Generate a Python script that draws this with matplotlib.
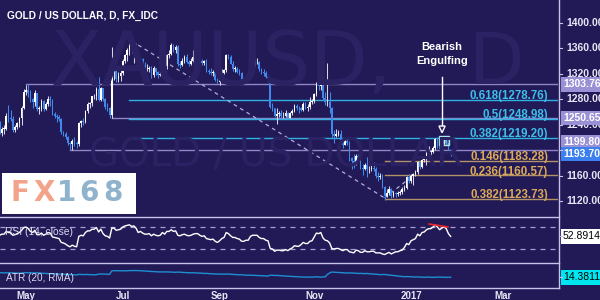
import matplotlib
matplotlib.use('Agg')
import matplotlib.pyplot as plt
import matplotlib.transforms as mtransforms
from matplotlib.lines import Line2D
from matplotlib.patches import Rectangle, Polygon
import numpy as np
import pandas as pd

plt.rcParams['font.family'] = ['Liberation Sans', 'DejaVu Sans']

# ---------------- data ----------------
start_date = '2016-04-14'
end_date = '2017-01-26'
first_open = 1244.0

close = [
    # Apr
    1227, 1234, 1234, 1254, 1250, 1249, 1232, 1237, 1243, 1250, 1266, 1291,
    # May
    1295, 1290, 1280, 1275, 1290, 1265, 1265, 1277, 1265, 1272, 1281, 1279, 1257, 1254, 1252, 1249, 1228, 1225, 1221, 1212, 1210, 1215,
    # Jun
    1211, 1209, 1243, 1246, 1244, 1261, 1272, 1274, 1285, 1285, 1296, 1279, 1298, 1280, 1268, 1266, 1255, 1322, 1325, 1312, 1317, 1321,
    # Jul
    1340, 1350, 1357, 1366, 1360, 1366, 1356, 1333, 1343, 1334, 1327, 1328, 1330, 1318, 1330, 1323, 1318, 1320, 1340, 1332, 1350,
    # Aug
    1352, 1366, 1358, 1363, 1336, 1334, 1341, 1346, 1339, 1336, 1340, 1346, 1349, 1350, 1341, 1337, 1340, 1325, 1323, 1321, 1323, 1311, 1307,
    # Sep
    1313, 1322, 1326, 1350, 1347, 1336, 1328, 1328, 1323, 1322, 1310, 1310, 1314, 1314, 1334, 1337, 1338, 1338, 1328, 1323, 1322, 1315,
    # Oct
    1313, 1268, 1266, 1253, 1257, 1258, 1253, 1254, 1258, 1251, 1259, 1262, 1270, 1267, 1266, 1263, 1273, 1267, 1268, 1276, 1277,
    # Nov
    1289, 1303, 1301, 1303, 1282, 1275, 1275, 1266, 1225, 1222, 1226, 1226, 1216, 1208, 1214, 1212, 1188, 1183, 1178, 1191, 1188, 1172,
    # Dec
    1170, 1177, 1170, 1170, 1172, 1171, 1160, 1158, 1159, 1142, 1128, 1133, 1139, 1128, 1133, 1131, 1133, 1134, 1139, 1140, 1158, 1151,
    # Jan
    1160, 1162, 1165, 1181, 1173, 1184, 1186, 1196, 1197, 1197, 1204, 1217, 1212, 1202, 1210, 1217, 1211, 1198, 1193.70,
]
high = [
    1246, 1237, 1240, 1259, 1271, 1263, 1253, 1240, 1245, 1252, 1270, 1296,
    1303, 1304, 1294, 1282, 1295, 1290, 1270, 1280, 1279, 1276, 1286, 1285, 1281, 1260, 1257, 1255, 1250, 1230, 1228, 1223, 1213, 1218,
    1220, 1214, 1245, 1248, 1250, 1263, 1275, 1276, 1286, 1289, 1299, 1315, 1299, 1298, 1282, 1274, 1268, 1362, 1335, 1327, 1323, 1328,
    1343, 1352, 1360, 1375, 1369, 1372, 1368, 1358, 1346, 1345, 1338, 1335, 1333, 1333, 1333, 1330, 1325, 1325, 1342, 1342, 1352,
    1357, 1368, 1367, 1366, 1365, 1341, 1345, 1349, 1351, 1342, 1345, 1358, 1352, 1356, 1352, 1344, 1342, 1343, 1328, 1330, 1326, 1324, 1314,
    1317, 1327, 1328, 1352, 1352, 1350, 1340, 1332, 1331, 1328, 1323, 1312, 1318, 1318, 1336, 1343, 1342, 1345, 1341, 1330, 1327, 1325,
    1318, 1314, 1274, 1267, 1266, 1262, 1263, 1260, 1263, 1260, 1260, 1265, 1272, 1272, 1269, 1268, 1275, 1276, 1272, 1284, 1281,
    1290, 1308, 1307, 1306, 1304, 1291, 1337, 1292, 1268, 1231, 1233, 1232, 1232, 1218, 1219, 1220, 1215, 1190, 1194, 1194, 1194, 1193,
    1178, 1180, 1189, 1175, 1177, 1181, 1173, 1165, 1164, 1163, 1144, 1139, 1143, 1140, 1136, 1135, 1136, 1137, 1142, 1146, 1160, 1163,
    1162, 1164, 1169, 1183, 1182, 1186, 1190, 1199, 1207, 1200, 1207, 1219, 1220, 1215, 1213, 1219, 1220, 1212, 1200,
]
low = [
    1225, 1223, 1225, 1232, 1245, 1246, 1229, 1228, 1233, 1237, 1240, 1265,
    1287, 1283, 1276, 1267, 1270, 1262, 1257, 1262, 1262, 1263, 1270, 1270, 1255, 1250, 1245, 1246, 1226, 1222, 1217, 1208, 1200, 1200,
    1207, 1204, 1207, 1236, 1240, 1242, 1258, 1267, 1269, 1280, 1279, 1277, 1277, 1277, 1264, 1261, 1251, 1250, 1310, 1307, 1307, 1309,
    1318, 1337, 1341, 1350, 1353, 1337, 1351, 1331, 1331, 1322, 1325, 1325, 1323, 1313, 1315, 1318, 1314, 1316, 1315, 1327, 1328,
    1345, 1350, 1354, 1353, 1333, 1330, 1332, 1337, 1337, 1333, 1334, 1339, 1340, 1344, 1338, 1334, 1334, 1323, 1320, 1318, 1316, 1309, 1305,
    1302, 1307, 1320, 1323, 1343, 1335, 1325, 1323, 1321, 1319, 1308, 1305, 1307, 1310, 1312, 1331, 1333, 1335, 1325, 1320, 1316, 1313,
    1309, 1266, 1262, 1252, 1241, 1252, 1250, 1250, 1252, 1250, 1250, 1255, 1260, 1263, 1259, 1261, 1261, 1264, 1262, 1264, 1272,
    1274, 1286, 1295, 1294, 1279, 1271, 1270, 1259, 1219, 1211, 1220, 1222, 1213, 1204, 1208, 1208, 1183, 1171, 1172, 1177, 1184, 1170,
    1161, 1169, 1158, 1164, 1167, 1168, 1157, 1152, 1155, 1140, 1122, 1126, 1129, 1125, 1126, 1126, 1128, 1130, 1131, 1136, 1139, 1149,
    1148, 1146, 1160, 1162, 1170, 1172, 1181, 1177, 1191, 1193, 1196, 1201, 1204, 1199, 1200, 1208, 1210, 1195, 1191,
]
rsi = [
    55, 57, 57, 62, 60, 60, 55, 56, 58, 60, 64, 69,
    70, 67, 62, 60, 64, 56, 56, 59, 55, 57, 60, 59, 52, 51, 50, 49, 42, 41, 39, 36, 34, 37,
    35, 34, 53, 55, 54, 60, 63, 63, 66, 66, 69, 61, 66, 58, 54, 53, 50, 68, 68, 64, 65, 66,
    70, 72, 73, 74, 71, 72, 68, 60, 62, 59, 57, 57, 58, 54, 57, 55, 54, 55, 60, 57, 62,
    62, 65, 62, 63, 55, 54, 56, 57, 55, 54, 55, 57, 58, 58, 55, 53, 54, 49, 48, 47, 48, 44, 42,
    45, 49, 51, 60, 58, 54, 51, 51, 49, 48, 44, 44, 46, 46, 53, 55, 55, 55, 51, 49, 49, 46,
    45, 31, 30, 26, 28, 28, 27, 27, 29, 27, 30, 32, 36, 35, 35, 38, 42, 40, 40, 44, 45,
    52, 59, 58, 60, 50, 46, 45, 41, 31, 30, 31, 31, 29, 27, 29, 29, 25, 24, 23, 28, 27, 24,
    24, 27, 25, 25, 26, 26, 23, 23, 23, 21, 20, 22, 24, 21, 23, 25, 25, 27, 28, 33, 40, 38,
    45, 47, 49, 57, 54, 60, 61, 65, 67, 67, 70, 73.5, 70, 65, 68, 71, 67, 58, 52.8914,
]
atr = [
    21.0, 20.8, 20.6, 20.7, 20.9, 20.8, 20.6, 20.4, 20.2, 20.1, 20.3, 20.8,
    20.9, 21.0, 20.8, 20.6, 20.5, 20.7, 20.4, 20.2, 20.0, 19.8, 19.6, 19.4, 19.5, 19.2, 19.0, 18.8, 18.9, 18.6, 18.4, 18.3, 18.1, 18.2,
    17.9, 17.7, 18.6, 18.4, 18.2, 18.3, 18.4, 18.1, 18.1, 17.9, 18.0, 18.9, 19.0, 19.0, 18.8, 18.6, 18.5, 23.5, 23.8, 23.7, 23.6, 23.5,
    23.7, 23.6, 23.5, 23.9, 23.8, 24.0, 23.8, 23.9, 23.6, 23.5, 23.2, 23.0, 22.8, 22.6, 22.5, 22.3, 22.1, 21.9, 22.1, 21.9, 22.0,
    21.8, 21.8, 21.6, 21.4, 21.8, 21.5, 21.3, 21.1, 21.0, 20.8, 20.7, 20.8, 20.6, 20.4, 20.4, 20.1, 19.8, 19.9, 19.6, 19.4, 19.3, 19.1, 18.9,
    18.9, 19.0, 18.6, 19.1, 18.9, 18.8, 18.6, 18.3, 18.1, 17.9, 17.9, 17.6, 17.4, 17.2, 17.4, 17.3, 17.1, 16.9, 16.8, 16.6, 16.5, 16.3,
    16.0, 17.5, 17.2, 17.0, 17.1, 16.8, 16.6, 16.3, 16.1, 15.8, 15.7, 15.5, 15.4, 15.1, 14.9, 14.8, 14.8, 14.7, 14.5, 14.8, 14.6,
    14.9, 15.1, 14.9, 14.6, 14.9, 15.0, 18.5, 20.5, 21.8, 21.6, 21.4, 21.2, 21.0, 20.8, 20.6, 20.4, 20.6, 20.5, 20.4, 20.0, 19.8, 19.9,
    19.8, 19.5, 19.8, 19.4, 19.1, 18.9, 18.7, 18.5, 18.1, 18.3, 18.4, 17.9, 17.5, 17.3, 16.9, 16.5, 16.1, 15.8, 15.5, 15.2, 15.4, 15.3,
    15.1, 15.0, 14.7, 14.9, 14.7, 14.6, 14.4, 14.6, 14.7, 14.4, 14.3, 14.5, 14.6, 14.7, 14.6, 14.4, 14.3, 14.5, 14.3811,
]

month_labels = ['May', 'Jul', 'Sep', 'Nov', '2017', 'Mar']
month_keys = ['2016-05', '2016-07', '2016-09', '2016-11', '2017-01', '2017-03']
price_ticks = [1120, 1160, 1240, 1280, 1320, 1360, 1400]

fib_cyan = [(0.618, 1278.76), (0.5, 1248.98), (0.382, 1219.20)]
fib_tan = [(0.146, 1183.28), (0.236, 1160.57), (0.382, 1123.73)]
level_lines = [1303.76, 1250.65, 1199.80]
level_start = ['2016-05-02', '2016-06-24', '2016-05-30']
last_close = 1193.70
rsi_last = 52.8914
atr_last = 14.3811

# ---------------- setup ----------------
dates = pd.bdate_range(start_date, end_date)
n = len(close)
idx = np.arange(n)
cl = np.array(close, float)
hi = np.array(high, float)
lo = np.array(low, float)
op = np.concatenate([[first_open], cl[:-1]])

BG = '#221a56'
WM = '#2a2263'
LINE = '#c8c2ea'
TXT = '#e8e6f6'
W, H = 600, 300

fig = plt.figure(figsize=(6, 3), dpi=100, facecolor=BG)

def rect(top, bottom, right=558):
    return [0, 1 - bottom / H, right / W, (bottom - top) / H]

ax = fig.add_axes(rect(0, 216))
ax_r = fig.add_axes(rect(217, 262))
ax_a = fig.add_axes(rect(263, 287))
XL = (0.18, 253.8)
for a in (ax, ax_r, ax_a):
    a.set_facecolor('none')
    a.set_axis_off()
    a.set_xlim(*XL)
ax.set_ylim(1096.5, 1436.2)
ax_r.set_ylim(6.4, 88.2)
ax_a.set_ylim(0.65, 34.6)

# watermark
fig.text(222 / W, 1 - 65 / H, 'XAUUSD,', fontsize=54, color=WM,
         ha='center', va='center', family='DejaVu Sans', zorder=0)
fig.text(497 / W, 1 - 64 / H, 'D', fontsize=52, color=WM,
         ha='center', va='center', family='DejaVu Sans', zorder=0)
fig.text(276 / W, 1 - 155 / H, 'GOLD / US DOLLAR', fontsize=28, color=WM,
         ha='center', va='center', family='DejaVu Sans', zorder=0)

# level lines
for lv, sd in zip(level_lines, level_start):
    s = dates.get_loc(pd.Timestamp(sd))
    ax.plot([s, XL[1]], [lv, lv], color='#8f86c8', lw=1.0, zorder=1)

i_hi = int(np.argmax(hi))
i_lo = int(np.argmin(lo))
label_x = (548 + 0.4) / 2.2
for r, lv in fib_cyan:
    ax.plot([i_hi, XL[1]], [lv, lv], color='#2fb2e2', lw=1.0, zorder=2)
    ax.text(label_x, lv + 1.8, f'{r:g}({lv:.2f})', color='#3cc0ea', fontsize=8.3,
            fontweight='bold', ha='right', va='baseline', zorder=6)
for r, lv in fib_tan:
    ax.plot([i_lo, XL[1]], [lv, lv], color='#b3926a', lw=1.0, zorder=2)
    ax.text(label_x, lv + 1.0, f'{r:g}({lv:.2f})',
            color='#dcaa58', fontsize=8.3, fontweight='bold', ha='right', va='baseline', zorder=6)

# dashed trendlines
ax.plot([63, i_lo], [1365.4, 1124.8], color='#b4acd9', lw=0.9, ls=(0, (3, 3)), zorder=2)
ax.plot([i_lo, 185], [1125, 1152], color='#b4acd9', lw=0.9, ls=(0, (3, 3)), zorder=2)

# candles
up = cl >= op
for mask, body_c, wick_c in [(up, '#ffffff', '#d6d4e6'), (~up, '#4288ea', '#4288ea')]:
    ax.vlines(idx[mask], lo[mask], hi[mask], color=wick_c, lw=0.75, zorder=3)
    ax.bar(idx[mask], np.maximum(np.abs(cl - op)[mask], 1.0), bottom=np.minimum(cl, op)[mask],
           width=0.74, color=body_c, linewidth=0, zorder=4)

# bearish engulfing annotation
ax.add_patch(Rectangle((199.6, 1208), 4.6, 15, fc=(0.55, 0.9, 0.95, 0.35),
                       ec='#a8e6ee', lw=1.0, zorder=5))
ax.plot([201.1, 201.1], [1315, 1238], color='white', lw=1.0, zorder=6)
ax.add_patch(Polygon([[199.7, 1238], [202.5, 1238], [201.1, 1227.5]], closed=True,
                     fc=BG, ec='white', lw=1.0, zorder=6))
ax.text(201.1, 1362.3, 'Bearish', color='white', fontsize=8, fontweight='bold',
        ha='center', va='center', zorder=6)
ax.text(201.1, 1340.3, 'Engulfing', color='white', fontsize=8, fontweight='bold',
        ha='center', va='center', zorder=6)

# title
fig.text(7 / W, 1 - 16 / H, 'GOLD / US DOLLAR, D, FX_IDC', color='white', fontsize=7.3,
         fontweight='bold', ha='left', va='center')

# FX168 logo
fig.add_artist(Rectangle((2 / W, 1 - 214 / H), 134 / W, 41 / H, transform=fig.transFigure,
                         fc='white', ec='none', zorder=8))
for ch, xc, col in [('F', 20, '#f2a38a'), ('X', 44, '#f2a38a'), ('1', 67, '#8fb2cd'),
                    ('6', 89, '#8fb2cd'), ('8', 113, '#8fb2cd')]:
    fig.text(xc / W, 1 - 193 / H, ch, color=col, fontsize=20, fontweight='bold',
             family='DejaVu Sans', ha='center', va='center', zorder=9)

# RSI panel
ax_r.plot(idx, rsi, color='white', lw=1.0, zorder=3)
for lv in (70, 30):
    ax_r.plot(XL, [lv, lv], color='#a59ed2', lw=0.9, ls=(0, (4, 4)), zorder=2)
ax_r.plot([195.2, 203.8], [75.5, 70.0], color='#e8262a', lw=1.2, zorder=4)
fig.text(5 / W, 1 - 232 / H, 'RSI (14, close)', color='#dcd8f0', fontsize=7.4,
         ha='left', va='center', zorder=2)

# ATR panel
ax_a.plot(idx, atr, color='#1d8ed0', lw=1.0, zorder=3)
fig.text(6 / W, 1 - 278 / H, 'ATR (20, RMA)', color='#dcd8f0', fontsize=7.2,
         ha='left', va='center', zorder=2)

# frame lines
for yy in (216.5, 262.5, 287.5):
    fig.add_artist(Line2D([0, 558.5 / W], [1 - yy / H] * 2, color=LINE, lw=1.0,
                          transform=fig.transFigure))
fig.add_artist(Line2D([558.5 / W] * 2, [1, 1 - 287.5 / H], color=LINE, lw=1.0,
                      transform=fig.transFigure))

# right price scale
bl = mtransforms.blended_transform_factory(fig.transFigure, ax.transData)
for t in price_ticks + [1200]:
    fig.add_artist(Line2D([558.5 / W, 562 / W], [t, t], color=LINE, lw=0.8, transform=bl))
for t in price_ticks:
    ax.text(566 / W, t, f'{t:.2f}', transform=bl, color=TXT, fontsize=7.5,
            fontweight='bold', ha='left', va='center', clip_on=False, zorder=7)

box_labels = [(1303.76, 1303.76, '#9a90d6'), (1250.65, 1250.65, '#9a90d6'),
              (1199.80, 1213.0, '#9a90d6'), (last_close, last_close, '#3b80ee')]
for val, ypos, col in box_labels:
    ax.text(563 / W, ypos, f'{val:.2f}', transform=bl, color='white', fontsize=7.5,
            fontweight='bold', ha='left', va='center', clip_on=False, zorder=9,
            bbox=dict(boxstyle='square,pad=0.22', fc=col, ec='none'))

bl_r = mtransforms.blended_transform_factory(fig.transFigure, ax_r.transData)
fig.add_artist(Line2D([558.5 / W, 562 / W], [rsi_last] * 2, color=LINE, lw=0.8, transform=bl_r))
ax_r.text(563 / W, rsi_last, f'{rsi_last:.4f}', transform=bl_r, color='black', fontsize=7.5,
          ha='left', va='center', clip_on=False, zorder=9,
          bbox=dict(boxstyle='square,pad=0.22', fc='white', ec='none'))
bl_a = mtransforms.blended_transform_factory(fig.transFigure, ax_a.transData)
fig.add_artist(Line2D([558.5 / W, 562 / W], [atr_last] * 2, color=LINE, lw=0.8, transform=bl_a))
ax_a.text(563 / W, atr_last, f'{atr_last:.4f}', transform=bl_a, color='black', fontsize=7.5,
          ha='left', va='center', clip_on=False, zorder=9,
          bbox=dict(boxstyle='square,pad=0.22', fc='#00e6f0', ec='none'))

# time axis labels
full = pd.bdate_range(start_date, '2017-03-31')
bx = mtransforms.blended_transform_factory(ax_a.transData, fig.transFigure)
for lab, key in zip(month_labels, month_keys):
    pos = int(np.nonzero(full.strftime('%Y-%m') == key)[0][0])
    ax_a.text(pos, 1 - 296 / H, lab, transform=bx, color=TXT, fontsize=7,
              fontweight='bold', ha='center', va='center', clip_on=False)

fig.savefig('out.png', dpi=100, facecolor=BG)
